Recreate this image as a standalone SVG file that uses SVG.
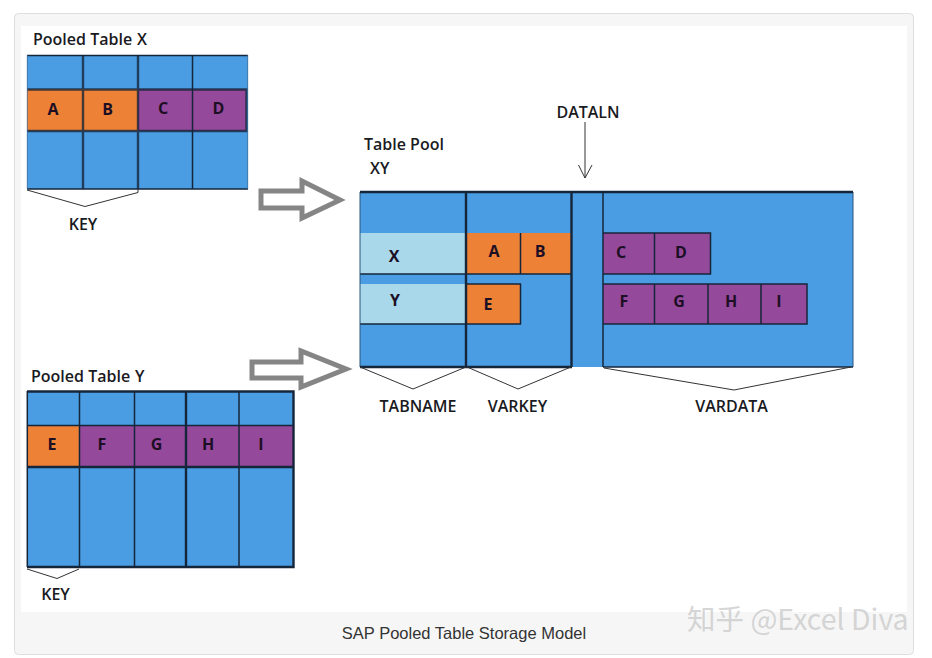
<svg xmlns="http://www.w3.org/2000/svg" width="932" height="658" viewBox="0 0 932 658">
<defs><style>
.l{font-family:"Open Sans","Noto Sans",sans-serif;font-weight:600;font-size:16px;fill:#1a1a22;text-anchor:middle}
.h{text-anchor:start}
.c{font-family:"Open Sans","Noto Sans",sans-serif;font-weight:700;font-size:16px;fill:#1c0f24;text-anchor:middle}
.b{fill:#4a9de3}.o{fill:#ed8136}.p{fill:#95499b}.t{fill:#a8d8ea}
.g{stroke:#16263a;stroke-width:1.5;fill:none}
.g2{stroke:#16263a;stroke-width:2.4;fill:none}
.br{stroke:#333;stroke-width:1;fill:none}
.ar{stroke:#858585;stroke-width:5;fill:#fff;stroke-linejoin:miter}
</style></defs>
<rect x="14.500" y="13.500" width="899" height="641" rx="4" fill="#f6f6f6" stroke="#dedede"/>
<rect x="21" y="26" width="886" height="586" fill="#fff"/>

<g id="table-x">
<text class="l h" x="33" y="45">Pooled Table</text><text class="l h" x="137" y="45">X</text>
<rect class="b" x="27" y="55" width="221" height="134"/>
<rect class="o" x="27" y="89" width="111" height="42"/>
<rect class="p" x="138" y="89" width="108" height="42"/>
<path class="g2" d="M27 89.500H246.500V131H27M83 55V189M138 55V189" stroke-opacity=".8"/>
<path class="g" d="M27 55.500H248M192.500 55V189M27 189H248"/>
<path d="M27.300 55V189M247.700 55V189" stroke="#3f6f9c" stroke-width=".8" fill="none"/>
<text class="c" x="53" y="115">A</text><text class="c" x="107.500" y="115">B</text><text class="c" x="163" y="114">C</text><text class="c" x="218.500" y="114">D</text>
<path class="br" d="M27 190L85 206.500L138 192.500V189"/>
<text class="l" x="83" y="230">KEY</text>
</g>

<g id="table-y">
<text class="l h" x="31" y="382">Pooled Table</text><text class="l h" x="135" y="382">Y</text>
<rect class="b" x="27" y="391" width="266" height="176"/>
<rect class="o" x="27" y="425" width="52.500" height="42"/>
<rect class="p" x="79.500" y="425" width="213.500" height="42"/>
<path class="g" d="M27 425.500H293M79.500 391V567M134.500 391V567M239 391V567M27.300 391V567"/>
<path class="g2" d="M27 391.500H293.500V567H27M27 467H293M186 391V567"/>
<text class="c" x="52" y="450">E</text><text class="c" x="102" y="450">F</text><text class="c" x="156.500" y="450">G</text><text class="c" x="208" y="450">H</text><text class="c" x="261" y="450">I</text>
<path class="br" d="M27 569L57 578.500L79 569"/>
<text class="l" x="55.500" y="600">KEY</text>
</g>

<g id="table-pool">
<text class="l h" x="364" y="150">Table Pool</text>
<text class="l h" x="370" y="174">XY</text>
<text class="l" x="588" y="118">DATALN</text>
<rect class="b" x="360" y="192" width="493" height="175"/>
<rect class="t" x="360" y="233" width="106" height="41"/>
<rect class="t" x="360" y="284" width="106" height="40"/>
<rect class="o" x="466" y="233" width="106" height="41"/>
<rect class="o" x="466" y="284" width="54.500" height="40"/>
<rect class="p" x="603" y="233" width="107.500" height="41"/>
<rect class="p" x="603" y="284" width="204" height="40"/>
<path class="g" d="M466 274H572M360 274H466M360 324H520.500V284H466M520.500 233V274"/>
<path class="g" d="M603 192V367M603 274H710.500V233H603M654.500 233V274M603 284H807V324H603M654.500 284V324M708 284V324M761 284V324"/>
<path d="M853 192V367M360 192V367" stroke="#28527c" stroke-width="1" fill="none"/>
<path class="g2" d="M360 192H853M360 367H572M466 192V367M571.500 192V367"/>
<path class="g" d="M603 367H853"/>
<text class="c" x="394" y="262">X</text><text class="c" x="395" y="306">Y</text>
<text class="c" x="494" y="257">A</text><text class="c" x="540" y="257">B</text><text class="c" x="488" y="310">E</text>
<text class="c" x="621" y="258">C</text><text class="c" x="681" y="258">D</text>
<text class="c" x="624" y="307">F</text><text class="c" x="679" y="307">G</text><text class="c" x="731" y="307">H</text><text class="c" x="779" y="307">I</text>
<text class="l" x="418" y="412">TABNAME</text>
<text class="l" x="517.500" y="412">VARKEY</text>
<text class="l" x="731.500" y="412">VARDATA</text>
</g>

<g id="connectors">
<path class="ar" d="M261 191H302V181L340 200L302 218V208H261Z"/>
<path class="ar" d="M252 362H301V351L346 369L301 387V378H252Z"/>
<path class="br" stroke="#444" d="M585 122V178M578.500 165L585 178L592 165"/>
<path class="br" d="M360 367L413 389L466 367M467 367L518 389L571 367M604 368L734 390L851 367"/>
</g>

<text x="464" y="639" font-family="Liberation Sans,Arial,sans-serif" font-size="16.500" fill="#333" text-anchor="middle">SAP Pooled Table Storage Model</text>
<text x="687" y="630" font-family="'Noto Sans CJK SC','Noto Sans',sans-serif" font-size="28.500" fill="#c9c9c9" fill-opacity=".75">知乎 @Excel Diva</text>
</svg>
